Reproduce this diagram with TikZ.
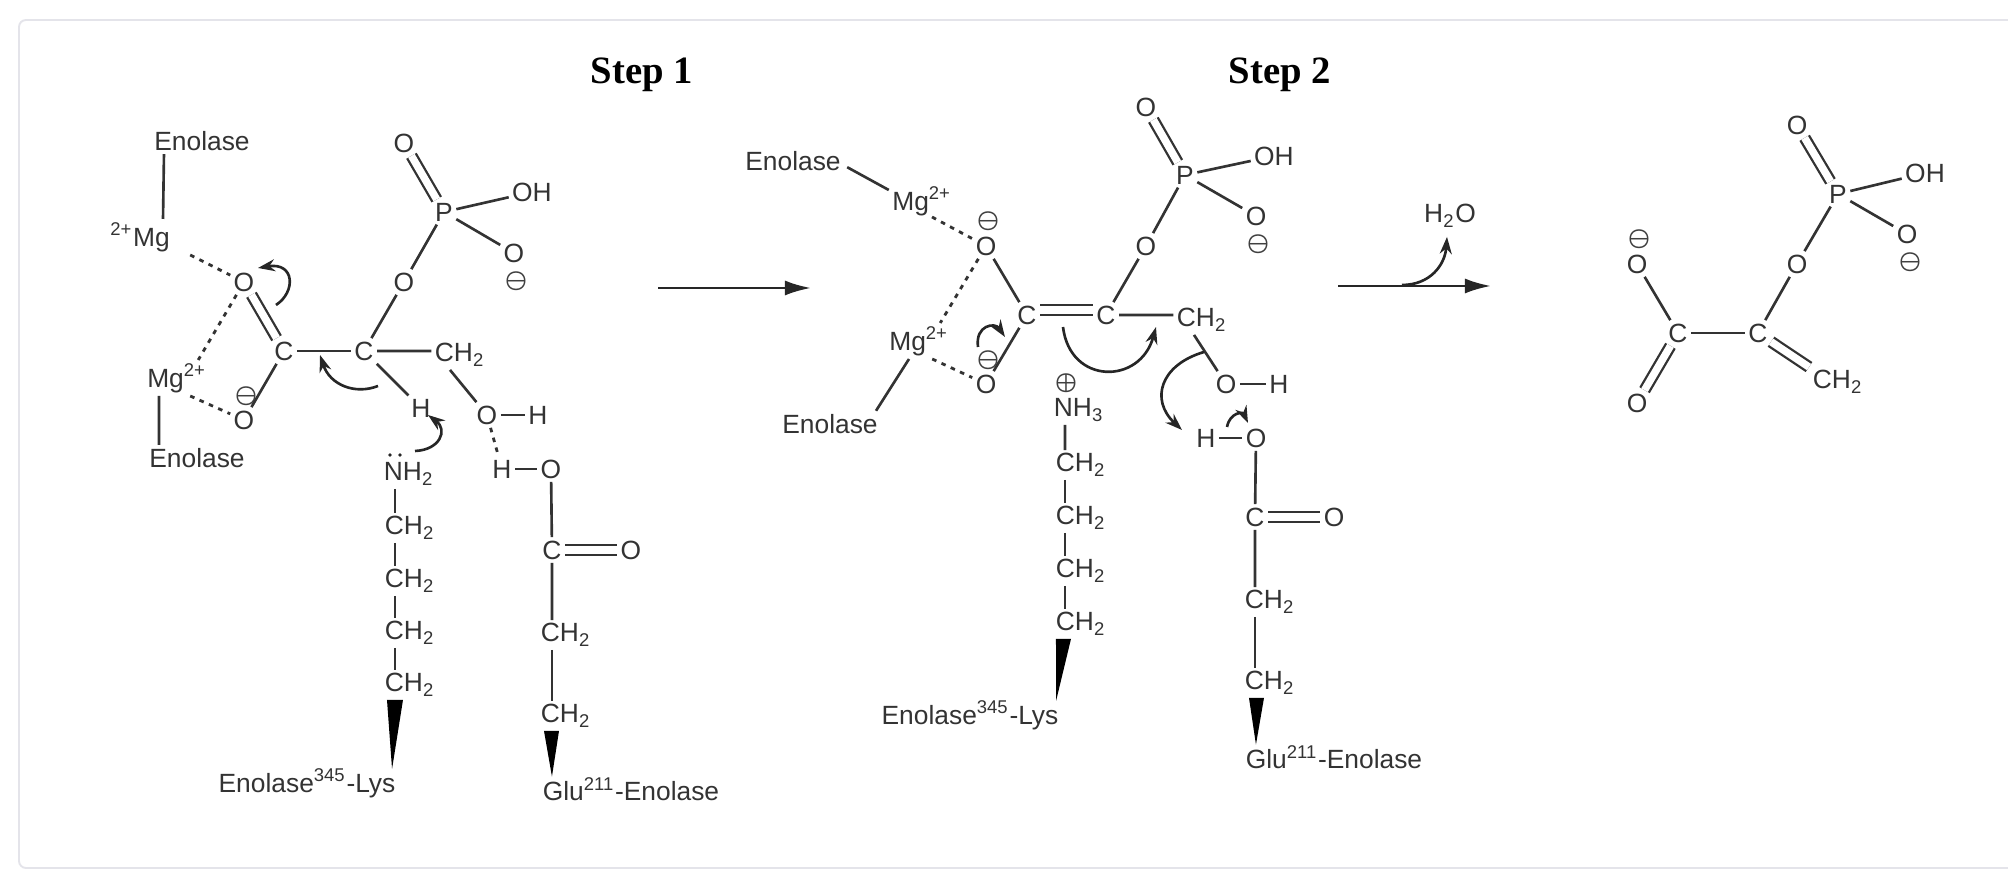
\documentclass[tikz,border=0pt]{standalone}
\usepackage{fontspec}
\setmainfont{Liberation Sans}
\newfontfamily\titlefont{Liberation Serif}
\usetikzlibrary{arrows.meta}
\definecolor{cardline}{HTML}{E4E4EA}
\tikzset{
  atom/.style={inner sep=.8pt,font=\fontsize{7.5}{9}\selectfont,text=black!80},
  charge/.style={inner sep=0pt,font=\fontsize{5.8}{7}\selectfont\boldmath,text=black!75},
  steptitle/.style={inner sep=0pt,font=\titlefont\bfseries\fontsize{11}{13}\selectfont},
  bond/.style={draw=black!80,line width=.75pt},
  dbl/.style={bond,double,double distance=.075cm,line width=.65pt},
  hbond/.style={draw=black!80,line width=.8pt,dash pattern=on 1.3pt off 1.6pt},
  curly/.style={draw=black!85,line width=.75pt,-{Stealth[length=.17cm,width=.12cm]}},
  rxn/.style={draw=black!85,line width=.75pt,-{Latex[length=.26cm,width=.15cm]}}
}
\begin{document}
\begin{tikzpicture}[x=0.01cm,y=-0.01cm]
\useasboundingbox (0,0) rectangle (2008,886);
\draw[cardline,line width=.55pt,rounded corners=.07cm] (2030,20) -- (19,20) -- (19,868) -- (2030,868);

\node[steptitle] (stepa) at (642,75) {Step 1};
\node[steptitle] (stepb) at (1280,75) {Step 2};

\node[atom] (enza) at (202,141) {Enolase};
\node[atom] (mga) at (140,237) {\textsuperscript{2+}Mg};
\node[atom] (mgb) at (177,378) {Mg\textsuperscript{2+}};
\node[atom] (enzb) at (197,458) {Enolase};
\node[atom] (oa) at (244,282) {O};
\node[atom] (ob) at (244,420) {O};
\node[charge] (oneg) at (246,396) {$\ominus$};
\node[atom] (ca) at (284,351) {C};
\node[atom] (cb) at (364,351) {C};
\node[atom] (oc) at (404,282) {O};
\node[atom] (pa) at (444,212) {P};
\node[atom] (od) at (404,143) {O};
\node[atom] (oha) at (532,192) {OH};
\node[atom] (oe) at (514,253) {O};
\node[charge] (eneg) at (516,281) {$\ominus$};
\node[atom] (cha) at (460,355) {CH\textsubscript{2}};
\node[atom] (ha) at (421,408) {H};
\node[atom] (of) at (487,415) {O};
\node[atom] (hb) at (538,415) {H};
\node[atom] (hc) at (502,469) {H};
\node[atom] (og) at (551,469) {O};
\node[atom] (cc) at (552,550) {C};
\node[atom] (oh) at (631,550) {O};
\node[atom] (glua) at (566,635) {CH\textsubscript{2}};
\node[atom] (glub) at (566,716) {CH\textsubscript{2}};
\node[atom] (gluc) at (631,789) {Glu\textsuperscript{211}-Enolase};
\node[atom] (nha) at (409,474) {NH\textsubscript{2}};
\node[atom] (lysa) at (410,528) {CH\textsubscript{2}};
\node[atom] (lysb) at (410,581) {CH\textsubscript{2}};
\node[atom] (lysc) at (410,633) {CH\textsubscript{2}};
\node[atom] (lysd) at (410,685) {CH\textsubscript{2}};
\node[atom] (lyse) at (307,783) {Enolase\textsuperscript{345}-Lys};

\draw[bond] ([xshift=-.38cm]enza.south) -- ([xshift=.23cm]mga.north);
\draw[hbond] ([xshift=.17cm]mga.south east) -- (oa);
\draw[hbond] (oa) -- ([xshift=-.12cm]mgb.north east);
\draw[hbond] ([xshift=-.2cm]mgb.south east) -- (ob);
\draw[bond] ([xshift=-.18cm]mgb.south) -- ([xshift=-.38cm]enzb.north);
\draw[dbl] (oa) -- (ca);
\draw[bond] (ca) -- (ob);
\draw[bond] (ca) -- (cb);
\draw[bond] (cb) -- (oc);
\draw[bond] (oc) -- (pa);
\draw[dbl] (pa) -- (od);
\draw[bond] (pa) -- (oha);
\draw[bond] (pa) -- (oe);
\draw[bond] (cb) -- ([yshift=.04cm]cha.west);
\draw[bond] (cb) -- (ha);
\draw[bond] ([xshift=-.1cm]cha.south) -- (of);
\draw[bond] (of) -- (hb);
\draw[hbond] (of) -- (hc);
\draw[bond] (hc) -- (og);
\draw[bond] (og) -- (cc);
\draw[dbl] (cc) -- (oh);
\draw[bond] (cc) -- ([xshift=-.14cm]glua.north);
\draw[bond] ([xshift=-.14cm]glua.south) -- ([xshift=-.14cm]glub.north);
\draw[bond] ([xshift=-.14cm]nha.south) -- ([xshift=-.15cm]lysa.north);
\draw[bond] ([xshift=-.15cm]lysa.south) -- ([xshift=-.15cm]lysb.north);
\draw[bond] ([xshift=-.15cm]lysb.south) -- ([xshift=-.15cm]lysc.north);
\draw[bond] ([xshift=-.15cm]lysc.south) -- ([xshift=-.15cm]lysd.north);
\fill[black] ([xshift=-.23cm]lysd.south) -- ([xshift=-.07cm]lysd.south) -- ([xshift=.85cm,yshift=-.04cm]lyse.north) -- cycle;
\fill[black] ([xshift=-.22cm]glub.south) -- ([xshift=-.07cm]glub.south) -- ([xshift=-.79cm,yshift=-.03cm]gluc.north) -- cycle;
\fill[black!85] (390,455) circle (1.8);
\fill[black!85] (400,455) circle (1.8);

\coordinate (arra) at (276,305);
\coordinate (arrb) at (258,268);
\coordinate (arrc) at (378,386);
\coordinate (arrd) at (320,355);
\coordinate (arre) at (415,451);
\coordinate (arrf) at (428,415);
\draw[curly] (arra) .. controls (296,292) and (295,262) .. (arrb);
\draw[curly] (arrc) .. controls (355,395) and (330,385) .. (arrd);
\draw[curly] (arre) .. controls (440,450) and (448,430) .. (arrf);

\coordinate (rxa) at (658,288);
\coordinate (rxb) at (811,288);
\draw[rxn] (rxa) -- (rxb);

\node[atom] (enzc) at (793,161) {Enolase};
\node[atom] (mgc) at (922,201) {Mg\textsuperscript{2+}};
\node[atom] (mgd) at (919,341) {Mg\textsuperscript{2+}};
\node[atom] (enzd) at (830,424) {Enolase};
\node[atom] (oi) at (986,246) {O};
\node[charge] (ineg) at (988,221) {$\ominus$};
\node[atom] (oj) at (986,384) {O};
\node[charge] (jneg) at (988,360) {$\ominus$};
\node[atom] (cd) at (1027,315) {C};
\node[atom] (ce) at (1106,315) {C};
\node[atom] (ok) at (1146,246) {O};
\node[atom] (pb) at (1185,175) {P};
\node[atom] (ol) at (1146,107) {O};
\node[atom] (ohb) at (1274,156) {OH};
\node[atom] (om) at (1256,216) {O};
\node[charge] (mneg) at (1258,244) {$\ominus$};
\node[atom] (chb) at (1202,320) {CH\textsubscript{2}};
\node[atom] (on) at (1226,384) {O};
\node[atom] (hd) at (1279,384) {H};
\node[atom] (he) at (1206,438) {H};
\node[atom] (oo) at (1256,438) {O};
\node[atom] (cf) at (1255,517) {C};
\node[atom] (op) at (1334,517) {O};
\node[atom] (glud) at (1270,602) {CH\textsubscript{2}};
\node[atom] (glue) at (1270,683) {CH\textsubscript{2}};
\node[atom] (gluf) at (1334,757) {Glu\textsuperscript{211}-Enolase};
\node[charge] (npos) at (1066,383) {$\oplus$};
\node[atom] (nhb) at (1079,410) {NH\textsubscript{3}};
\node[atom] (lysf) at (1081,465) {CH\textsubscript{2}};
\node[atom] (lysg) at (1081,518) {CH\textsubscript{2}};
\node[atom] (lysh) at (1081,571) {CH\textsubscript{2}};
\node[atom] (lysi) at (1081,624) {CH\textsubscript{2}};
\node[atom] (lysj) at (970,715) {Enolase\textsuperscript{345}-Lys};

\draw[bond] ([xshift=.03cm,yshift=.07cm]enzc.south east) -- ([yshift=-.07cm]mgc.north west);
\draw[hbond] ([xshift=.1cm,yshift=.02cm]mgc.south) -- (oi);
\draw[hbond] (oi) -- ([xshift=-.12cm]mgd.north east);
\draw[hbond] ([xshift=-.2cm]mgd.south east) -- (oj);
\draw[bond] ([xshift=-.1cm]mgd.south) -- ([xshift=.46cm]enzd.north);
\draw[bond] (oi) -- (cd);
\draw[bond] (cd) -- (oj);
\draw[dbl] ([yshift=.05cm]cd.east) -- ([yshift=.05cm]ce.west);
\draw[bond] (ce) -- (ok);
\draw[bond] (ok) -- (pb);
\draw[dbl] (pb) -- (ol);
\draw[bond] (pb) -- (ohb);
\draw[bond] (pb) -- (om);
\draw[bond] (ce) -- ([yshift=.05cm]chb.west);
\draw[bond] ([xshift=-.08cm]chb.south) -- (on);
\draw[bond] (on) -- (hd);
\draw[bond] (he) -- (oo);
\draw[bond] (oo) -- (cf);
\draw[dbl] (cf) -- (op);
\draw[bond] (cf) -- ([xshift=-.15cm]glud.north);
\draw[bond] ([xshift=-.15cm]glud.south) -- ([xshift=-.15cm]glue.north);
\draw[bond] ([xshift=-.14cm]nhb.south) -- ([xshift=-.16cm]lysf.north);
\draw[bond] ([xshift=-.16cm]lysf.south) -- ([xshift=-.16cm]lysg.north);
\draw[bond] ([xshift=-.16cm]lysg.south) -- ([xshift=-.16cm]lysh.north);
\draw[bond] ([xshift=-.16cm]lysh.south) -- ([xshift=-.16cm]lysi.north);
\fill[black] ([xshift=-.25cm]lysi.south) -- ([xshift=-.1cm]lysi.south) -- ([xshift=.86cm,yshift=-.04cm]lysj.north) -- cycle;
\fill[black] ([xshift=-.21cm]glue.south) -- ([xshift=-.06cm]glue.south) -- ([xshift=-.78cm,yshift=-.03cm]gluf.north) -- cycle;

\coordinate (arrg) at (978,347);
\coordinate (arrh) at (1005,337);
\coordinate (arri) at (1063,327);
\coordinate (arrj) at (1156,327);
\coordinate (arrk) at (1204,352);
\coordinate (arrl) at (1182,430);
\coordinate (arrm) at (1227,427);
\coordinate (arrn) at (1248,423);
\draw[curly] (arrg) .. controls (975,325) and (995,322) .. (arrh);
\draw[curly] (arri) .. controls (1070,385) and (1140,385) .. (arrj);
\draw[curly] (arrk) .. controls (1160,365) and (1150,400) .. (arrl);
\draw[curly] (arrm) .. controls (1230,412) and (1243,412) .. (arrn);

\coordinate (rxc) at (1338,286);
\coordinate (rxd) at (1491,286);
\coordinate (rxe) at (1402,285);
\node[atom] (water) at (1450,216) {H\textsubscript{2}O};
\draw[rxn] (rxc) -- (rxd);
\draw[curly] (rxe) .. controls (1430,285) and (1445,265) .. ([xshift=-.03cm,yshift=-.06cm]water.south);

\node[charge] (qneg) at (1639,239) {$\ominus$};
\node[atom] (oq) at (1637,264) {O};
\node[atom] (cg) at (1678,333) {C};
\node[atom] (or) at (1637,403) {O};
\node[atom] (ch) at (1758,333) {C};
\node[atom] (os) at (1797,264) {O};
\node[atom] (pc) at (1838,194) {P};
\node[atom] (ot) at (1797,125) {O};
\node[atom] (ohc) at (1925,173) {OH};
\node[atom] (ou) at (1907,234) {O};
\node[charge] (uneg) at (1910,262) {$\ominus$};
\node[atom] (chc) at (1838,382) {CH\textsubscript{2}};

\draw[bond] (oq) -- (cg);
\draw[dbl] (cg) -- (or);
\draw[bond] (cg) -- (ch);
\draw[bond] (ch) -- (os);
\draw[bond] (os) -- (pc);
\draw[dbl] (pc) -- (ot);
\draw[bond] (pc) -- (ohc);
\draw[bond] (pc) -- (ou);
\draw[dbl] (ch) -- ([xshift=-.29cm]chc.north);
\end{tikzpicture}
\end{document}
